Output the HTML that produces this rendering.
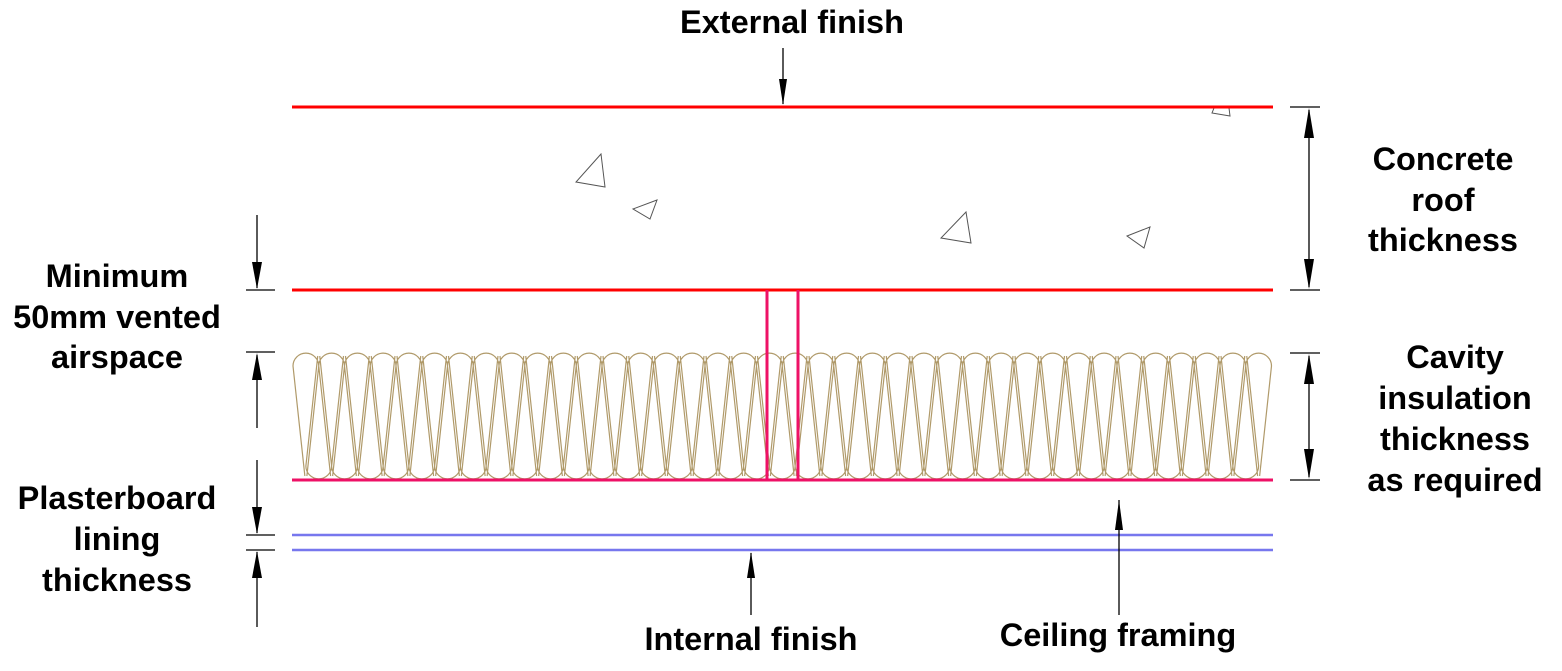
<!DOCTYPE html>
<html><head><meta charset="utf-8"><style>
html,body{margin:0;padding:0;background:#fff;width:1562px;height:671px;overflow:hidden}
text{font-family:"Liberation Sans",sans-serif;font-weight:bold;font-size:32.5px;fill:#000}
</style></head><body>
<svg id="s" width="1562" height="671" viewBox="0 0 1562 671" xmlns="http://www.w3.org/2000/svg">
<g id="ins" fill="none" stroke="#b09a6a" stroke-width="1.2"></g>
<g fill="none" stroke="#555" stroke-width="1">
<polygon points="601,154 576,182 605,187"/>
<polygon points="657,200 633,209 650,219"/>
<polygon points="966,212 941,238 971,243"/>
<polygon points="1150,227 1127,236 1144,248"/>
<polyline points="1214,108 1212,113 1230,116 1229,108"/>
</g>
<g stroke="#ff0000" stroke-width="3">
<line x1="292" y1="107" x2="1273" y2="107"/>
<line x1="292" y1="290" x2="1273" y2="290"/>
</g>
<g stroke="#ee1166" stroke-width="3">
<line x1="292" y1="480" x2="1273" y2="480"/>
<line x1="767" y1="290" x2="767" y2="480"/>
<line x1="798" y1="290" x2="798" y2="480"/>
</g>
<g stroke="#7777ee" stroke-width="2.5">
<line x1="292" y1="535" x2="1273" y2="535"/>
<line x1="292" y1="550" x2="1273" y2="550"/>
</g>
<g stroke="#000" stroke-width="1.3">
<line x1="1290" y1="107" x2="1320" y2="107"/>
<line x1="1290" y1="290" x2="1320" y2="290"/>
<line x1="1309" y1="110" x2="1309" y2="287"/>
<line x1="1290" y1="353" x2="1320" y2="353"/>
<line x1="1290" y1="480" x2="1320" y2="480"/>
<line x1="1309" y1="356" x2="1309" y2="477"/>
<line x1="246" y1="290" x2="275" y2="290"/>
<line x1="246" y1="352" x2="275" y2="352"/>
<line x1="257" y1="215" x2="257" y2="288"/>
<line x1="257" y1="428" x2="257" y2="355"/>
<line x1="246" y1="535" x2="275" y2="535"/>
<line x1="246" y1="550" x2="275" y2="550"/>
<line x1="257" y1="460" x2="257" y2="533"/>
<line x1="257" y1="627" x2="257" y2="552"/>
<line x1="783" y1="48" x2="783" y2="104"/>
<line x1="751" y1="615" x2="751" y2="553"/>
<line x1="1119" y1="615" x2="1119" y2="500"/>
</g>
<g fill="#000">
<path d="M1309 108 l-5 30 h10 z"/><path d="M1309 289 l-5 -30 h10 z"/>
<path d="M1309 354 l-5 30 h10 z"/><path d="M1309 479 l-5 -30 h10 z"/>
<path d="M257 289 l-5 -27 h10 z"/><path d="M257 353 l-5 27 h10 z"/>
<path d="M257 534 l-5 -27 h10 z"/><path d="M257 551 l-5 27 h10 z"/>
<path d="M783 105 l-4 -26 h8 z"/><path d="M751 552 l-4 26 h8 z"/><path d="M1119 500 l-4 30 h8 z"/>
</g>
<text x="792" y="33" text-anchor="middle">External finish</text>
<text x="1443" y="170" text-anchor="middle">Concrete</text>
<text x="1443" y="211" text-anchor="middle">roof</text>
<text x="1443" y="251" text-anchor="middle">thickness</text>
<text x="1455" y="368" text-anchor="middle">Cavity</text>
<text x="1455" y="409" text-anchor="middle">insulation</text>
<text x="1455" y="450" text-anchor="middle">thickness</text>
<text x="1455" y="491" text-anchor="middle">as required</text>
<text x="117" y="287" text-anchor="middle">Minimum</text>
<text x="117" y="328" text-anchor="middle">50mm vented</text>
<text x="117" y="368" text-anchor="middle">airspace</text>
<text x="117" y="509" text-anchor="middle">Plasterboard</text>
<text x="117" y="550" text-anchor="middle">lining</text>
<text x="117" y="591" text-anchor="middle">thickness</text>
<text x="751" y="650" text-anchor="middle">Internal finish</text>
<text x="1118" y="646" text-anchor="middle">Ceiling framing</text>
</svg>
<script>
var g=document.getElementById('ins'),d='',w=25.75,r=w/2;
for(var i=0;i<38;i++){var x=293+i*w;
 d+='M'+(x+r-1)+' 476 L'+x+' 366 A'+r+' '+r+' 0 0 1 '+(x+w)+' 366 L'+(x+r+1)+' 476 ';
 if(i>0) d+='M'+(x-1)+' 356 L'+(x-r)+' 466 A'+r+' '+r+' 0 0 0 '+(x+r)+' 466 L'+(x+1)+' 356 ';}
var p=document.createElementNS('http://www.w3.org/2000/svg','path');p.setAttribute('d',d);g.appendChild(p);
</script>
</body></html>
